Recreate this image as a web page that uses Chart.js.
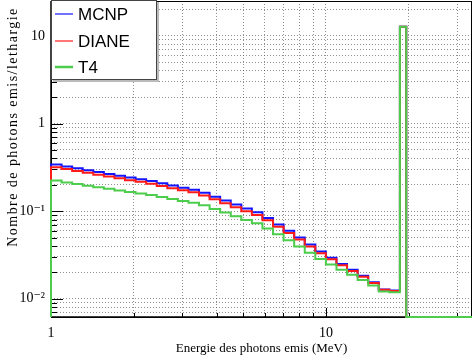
<!DOCTYPE html>
<html>
<head>
<meta charset="utf-8">
<script src="https://cdn.jsdelivr.net/npm/chart.js@4/dist/chart.umd.min.js"></script>
<style>
html,body{margin:0;padding:0;background:#fff;}
#wrap{width:474px;height:356px;position:relative;}
</style>
</head>
<body>
<div id="wrap"><canvas id="c" width="474" height="356"></canvas></div>
<script>
// ---- data ----
// bin edges in MeV (equal-lethargy bins, then the source line bin, then empty)
const binEdges = [1,1.0926,1.1938,1.3043,1.4251,1.5571,1.7013,1.8589,2.0310,2.2191,2.4245,2.6490,2.8943,3.1623,3.4551,3.7751,4.1246,4.5066,4.9239,5.3798,5.8780,6.4223,7.0170,7.6668,8.3768,9.1525,10,10.926,11.938,13.043,14.251,15.571,17.013,18.589,19.6,34];
const mcnp  = [0.340,0.324,0.308,0.293,0.279,0.266,0.254,0.242,0.231,0.2205,0.208,0.196,0.185,0.175,0.162,0.146,0.132,0.119,0.107,0.097,0.0837,0.0706,0.0596,0.0499,0.0416,0.0347,0.0294,0.0250,0.0214,0.0183,0.0154,0.0128,0.0124,12.7,0];
const diane = [0.318,0.303,0.288,0.274,0.261,0.249,0.237,0.226,0.216,0.206,0.194,0.183,0.173,0.164,0.151,0.137,0.123,0.111,0.100,0.0907,0.0787,0.0664,0.0563,0.0474,0.0395,0.0331,0.0282,0.0241,0.0208,0.0178,0.0151,0.0127,0.0123,12.7,0];
const t4    = [0.224,0.213,0.204,0.195,0.187,0.180,0.1725,0.1655,0.159,0.153,0.145,0.138,0.131,0.125,0.117,0.106,0.0964,0.0876,0.0794,0.0728,0.0636,0.0544,0.0465,0.0394,0.0336,0.0285,0.0247,0.0215,0.0188,0.0164,0.0142,0.0121,0.0119,12.7,0];
const seriesNames = ['MCNP','DIANE','T4'];
const xTickValues = [1,2,3,4,5,6,7,8,9,10,20,30];
const xTickLabels = {1:'1',10:'10'};
const yTickValues = [0.007,0.008,0.009,0.01,0.02,0.03,0.04,0.05,0.06,0.07,0.08,0.09,0.1,0.2,0.3,0.4,0.5,0.6,0.7,0.8,0.9,1,2,3,4,5,6,7,8,9,10,20];
const yTickLabels = {0.01:'10\u207B\u00B2',0.1:'10\u207B\u00B9',1:'1',10:'10'};
const xTitle = 'Energie des photons emis (MeV)';
const yTitle = 'Nombre de photons emis/lethargie';

const X_MIN = 1, X_MAX = 34, Y_MIN = 0.0062, Y_MAX = 25;
const colors = ['#1414ff','#ff1a1a','#4ccd4c'];

// histogram outline: empty bins sit on the axis floor (as in ROOT)
function histPoints(vals){
  const pts = [{x: binEdges[0], y: Y_MIN}];
  vals.forEach((v,i)=>pts.push({x: binEdges[i], y: v > 0 ? v : Y_MIN}));
  pts.push({x: binEdges[binEdges.length-1], y: Y_MIN});
  return pts;
}
const allVals = [mcnp, diane, t4];
const datasets = allVals.map((v,i)=>({
  label: seriesNames[i],
  data: histPoints(v),
  borderColor: colors[i],
  backgroundColor: colors[i],
  borderWidth: 2,
  pointRadius: 0,
  stepped: 'before',
  fill: false,
  clip: false,
  order: 3 - i
}));

const SERIF = '"Liberation Serif","DejaVu Serif",serif';
const SANS = '"Liberation Sans",Arial,sans-serif';

const decor = {
  id: 'decor',
  beforeDatasetsDraw(chart){
    const {ctx, chartArea: a, scales} = chart;
    ctx.save();
    ctx.strokeStyle = '#000'; ctx.lineWidth = 1;
    yTickValues.forEach(v=>{
      const y = Math.round(scales.y.getPixelForValue(v)) + 0.5;
      const major = yTickLabels[v] !== undefined;
      ctx.beginPath(); ctx.moveTo(a.left, y); ctx.lineTo(a.left + (major ? 12 : 6), y); ctx.stroke();
    });
    xTickValues.forEach(v=>{
      const x = Math.round(scales.x.getPixelForValue(v)) + 0.5;
      const major = xTickLabels[v] !== undefined;
      ctx.beginPath(); ctx.moveTo(x, a.bottom); ctx.lineTo(x, a.bottom - (major ? 9 : 4)); ctx.stroke();
    });
    ctx.strokeRect(a.left + 0.5, a.top + 0.5, a.right - a.left - 1, a.bottom - a.top);
    ctx.lineWidth = 1.5;
    ctx.beginPath(); ctx.moveTo(a.left, a.bottom); ctx.lineTo(a.right, a.bottom); ctx.stroke();
    ctx.beginPath(); ctx.moveTo(a.left, a.top); ctx.lineTo(a.left, a.bottom); ctx.stroke();
    // y-axis title (ROOT style, spread along the axis)
    ctx.save();
    ctx.font = '14px ' + SERIF;
    ctx.fillStyle = '#000';
    const w0 = ctx.measureText(yTitle).width;
    const target = 238;
    if ('letterSpacing' in ctx) ctx.letterSpacing = ((target - w0) / (yTitle.length - 1)).toFixed(2) + 'px';
    ctx.translate(13, 127);
    ctx.rotate(-Math.PI / 2);
    ctx.textAlign = 'center';
    ctx.textBaseline = 'middle';
    ctx.fillText(yTitle, 0, 0);
    ctx.restore();
    ctx.restore();
  },
  afterDatasetsDraw(chart){
    const {ctx, chartArea: a} = chart;
    ctx.save();
    const lx = a.left, ly = 0, lw = 106, lh = 80;
    ctx.fillStyle = '#bbb';
    ctx.fillRect(lx + 2, ly + 2, lw, lh);
    ctx.fillStyle = '#fff';
    ctx.fillRect(lx, ly, lw, lh);
    ctx.strokeStyle = '#444'; ctx.lineWidth = 1;
    ctx.strokeRect(lx + 0.5, ly + 0.5, lw - 1, lh - 1);
    const rows = [14, 41, 67];
    ctx.font = '17px ' + SANS;
    ctx.textBaseline = 'middle';
    ctx.textAlign = 'left';
    seriesNames.forEach((n,i)=>{
      ctx.strokeStyle = colors[i];
      ctx.lineWidth = i === 2 ? 2.5 : 1.2;
      ctx.beginPath(); ctx.moveTo(lx + 4, rows[i]); ctx.lineTo(lx + 22, rows[i]); ctx.stroke();
      ctx.fillStyle = '#000';
      ctx.fillText(n, lx + 27, rows[i] + 1);
    });
    ctx.restore();
  }
};

new Chart(document.getElementById('c'), {
  type: 'line',
  data: { datasets },
  options: {
    responsive: false,
    animation: false,
    devicePixelRatio: 1,
    layout: { padding: { top: 1, right: 2, left: 0, bottom: 0 } },
    plugins: { legend: { display: false }, tooltip: { enabled: false } },
    scales: {
      x: {
        type: 'logarithmic', min: X_MIN, max: X_MAX,
        afterBuildTicks: s => { s.ticks = xTickValues.map(v=>({value:v})); },
        afterFit: s => { s.height = 39; s.paddingLeft = 0; s.paddingRight = 0; },
        ticks: {
          autoSkip: false, maxRotation: 0, padding: 8,
          font: { family: SERIF, size: 14 }, color: '#000',
          callback: v => xTickLabels[v] !== undefined ? xTickLabels[v] : ''
        },
        grid: { color: 'rgba(70,70,70,0.6)', lineWidth: 1, drawTicks: false },
        border: { display: false, dash: [1, 2] },
        title: { display: true, text: xTitle, font: { family: SERIF, size: 13 }, color: '#000', padding: { top: 0, bottom: 0 } }
      },
      y: {
        type: 'logarithmic', min: Y_MIN, max: Y_MAX,
        afterBuildTicks: s => { s.ticks = yTickValues.map(v=>({value:v})); },
        afterFit: s => { s.width = 51; s.paddingTop = 0; s.paddingBottom = 0; },
        ticks: {
          autoSkip: false, padding: 6,
          font: { family: SERIF, size: 14 }, color: '#000',
          callback: v => yTickLabels[v] !== undefined ? yTickLabels[v] : ''
        },
        grid: { color: 'rgba(70,70,70,0.6)', lineWidth: 1, drawTicks: false },
        border: { display: false, dash: [1, 2] },
        title: { display: false }
      }
    }
  },
  plugins: [decor]
});
</script>
</body>
</html>
